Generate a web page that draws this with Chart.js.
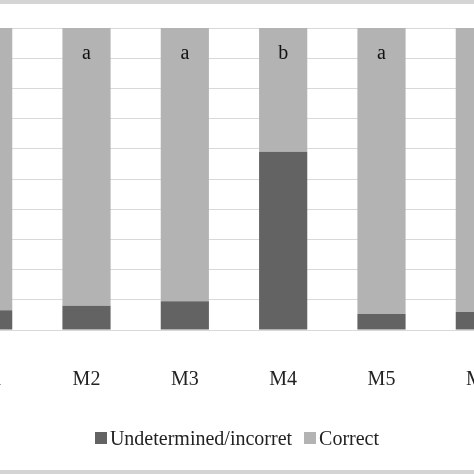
<!DOCTYPE html>
<html><head><meta charset="utf-8">
<script src="https://cdn.jsdelivr.net/npm/chart.js@4"></script>
<style>
html,body{margin:0;padding:0;width:474px;height:474px;overflow:hidden;background:#fff;position:relative}
#wrap{position:absolute;left:-61px;top:0;width:590px;height:474px}
#frame{position:absolute;left:0;top:0;width:474px;height:474px;box-sizing:border-box;border-top:4px solid #d4d4d4;border-bottom:4px solid #d4d4d4;pointer-events:none}
#legend{position:absolute;left:0;top:426px;width:474px;height:24px;display:flex;justify-content:center;align-items:center;font:20px "Liberation Serif";color:#222}
#legend .sw{display:inline-block;width:12px;height:12px;margin-right:3px}
#legend .it{display:flex;align-items:center;margin:0 6px}
</style></head><body>
<div id="wrap"><canvas id="c" width="590" height="474"></canvas></div>
<div id="legend"></div>
<div id="frame"></div>
<script>
const categories = ["M1","M2","M3","M4","M5","M6"];
const undetermined = [6.5, 8, 9.5, 59, 5.3, 6];
const correct = undetermined.map(v => 100 - v);
const letters = ["", "a", "a", "b", "a", ""];
const yTicks = [0,10,20,30,40,50,60,70,80,90,100];
const seriesNames = ['Undetermined/incorret', 'Correct'];
const seriesColors = ['#636363', '#b3b3b3'];

const letterPlugin = {
  id: 'letters',
  afterDatasetsDraw(chart) {
    const ctx = chart.ctx, x = chart.scales.x, y = chart.scales.y;
    ctx.save();
    ctx.font = '20px "Liberation Serif"';
    ctx.fillStyle = '#111';
    ctx.textAlign = 'center';
    ctx.textBaseline = 'middle';
    letters.forEach((l, i) => { if (l) ctx.fillText(l, x.getPixelForValue(i), y.getPixelForValue(100) + 26); });
    ctx.restore();
  }
};

const chart = new Chart(document.getElementById('c'), {
  type: 'bar',
  data: {
    labels: categories,
    datasets: [
      {label: seriesNames[0], data: undetermined, backgroundColor: seriesColors[0]},
      {label: seriesNames[1], data: correct, backgroundColor: seriesColors[1]}
    ]
  },
  options: {
    responsive: false, animation: false,
    layout: {padding: {top: 28, bottom: 52, left: 0, right: 0}},
    datasets: {bar: {categoryPercentage: 1, barPercentage: 0.49}},
    scales: {
      x: {stacked: true, grid: {display: false}, border: {color: '#d9d9d9'},
          ticks: {padding: 30, color: '#222', font: {family: 'Liberation Serif', size: 20}}},
      y: {stacked: true, min: 0, max: 100, afterBuildTicks: s => { s.ticks = yTicks.map(v => ({value: v})); },
          ticks: {display: false}, border: {display: false}, grid: {color: '#d9d9d9', drawTicks: false}}
    },
    plugins: {tooltip: {enabled: false}, legend: {display: false}}
  },
  plugins: [letterPlugin]
});
document.getElementById('legend').innerHTML = chart.data.datasets.map(d =>
  `<span class="it"><span class="sw" style="background:${d.backgroundColor}"></span>${d.label}</span>`).join('');
</script></body></html>
